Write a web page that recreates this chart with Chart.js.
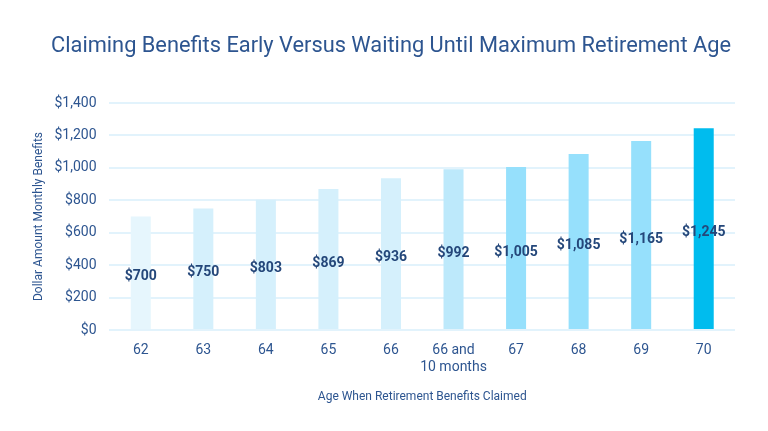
<!DOCTYPE html>
<html>
<head>
<meta charset="utf-8">
<script src="https://cdn.jsdelivr.net/npm/chart.js@4/dist/chart.umd.min.js"></script>
<style>
  html, body { margin: 0; padding: 0; background: #fff; }
  #wrap { width: 768px; height: 431px; }
</style>
</head>
<body>
<div id="wrap"><canvas id="chart" width="768" height="431"></canvas></div>
<script>
const TITLE = 'Claiming Benefits Early Versus Waiting Until Maximum Retirement Age';
const AGES = ['62', '63', '64', '65', '66', ['66 and', '10 months'], '67', '68', '69', '70'];
const BENEFITS = [700, 750, 803, 869, 936, 992, 1005, 1085, 1165, 1245];
const BAR_COLORS = ['#e6f6fd', '#d5f0fc', '#d5f0fc', '#d5f0fc', '#d5f0fc', '#bde9fb', '#96e0fc', '#96e0fc', '#96e0fc', '#00bcee'];
const Y_MAX = 1400;
const Y_STEP = 200;

const TEXT_COLOR = '#2d5590';
const LABEL_COLOR = '#24477a';
const GRID_COLOR = '#e2f3fc';
const FONT = 'Roboto, "Noto Sans", sans-serif';

const money = (v) => '$' + Number(v).toLocaleString('en-US');

// title centred on the whole canvas rather than the padded box
const pageTitle = {
  id: 'pageTitle',
  afterDraw(chart) {
    const { ctx } = chart;
    ctx.save();
    ctx.font = `21.8px ${FONT}`;
    ctx.fillStyle = TEXT_COLOR;
    ctx.textAlign = 'center';
    ctx.textBaseline = 'middle';
    ctx.fillText(TITLE, 391, 47);
    ctx.restore();
  },
};

// value labels drawn in the middle of each bar
const barLabels = {
  id: 'barLabels',
  afterDatasetsDraw(chart) {
    const { ctx } = chart;
    const meta = chart.getDatasetMeta(0);
    ctx.save();
    ctx.font = `bold 14px ${FONT}`;
    ctx.fillStyle = LABEL_COLOR;
    ctx.textAlign = 'center';
    ctx.textBaseline = 'middle';
    meta.data.forEach((bar, i) => {
      const mid = (bar.y + bar.base) / 2;
      ctx.fillText(money(BENEFITS[i]), bar.x, mid + 4);
    });
    ctx.restore();
  },
};

new Chart(document.getElementById('chart'), {
  type: 'bar',
  data: {
    labels: AGES,
    datasets: [{
      data: BENEFITS,
      backgroundColor: BAR_COLORS,
      borderWidth: 0,
      barPercentage: 0.32,
      categoryPercentage: 1,
    }],
  },
  options: {
    responsive: false,
    animation: false,
    layout: { padding: { left: 32, right: 33, top: 103, bottom: 23 } },
    plugins: {
      legend: { display: false },
      tooltip: { enabled: false },
      title: { display: false },
    },
    scales: {
      x: {
        grid: { display: false, drawTicks: false },
        border: { display: false },
        ticks: {
          color: TEXT_COLOR, padding: 12, maxRotation: 0, autoSkip: false,
          font: { family: FONT, size: 14 },
        },
        title: {
          display: true,
          text: 'Age When Retirement Benefits Claimed',
          color: TEXT_COLOR,
          font: { family: FONT, size: 12 },
          padding: { top: 2 },
        },
      },
      y: {
        min: 0,
        max: Y_MAX,
        grid: { color: GRID_COLOR, lineWidth: 2, drawTicks: false },
        border: { display: false },
        ticks: {
          stepSize: Y_STEP,
          color: TEXT_COLOR,
          padding: 13,
          font: { family: FONT, size: 14 },
          callback: (v) => money(v),
        },
        title: {
          display: true,
          text: 'Dollar Amount Monthly Benefits',
          color: TEXT_COLOR,
          font: { family: FONT, size: 12 },
          padding: { top: 0, bottom: -5 },
        },
      },
    },
  },
  plugins: [barLabels, pageTitle],
});
</script>
</body>
</html>
